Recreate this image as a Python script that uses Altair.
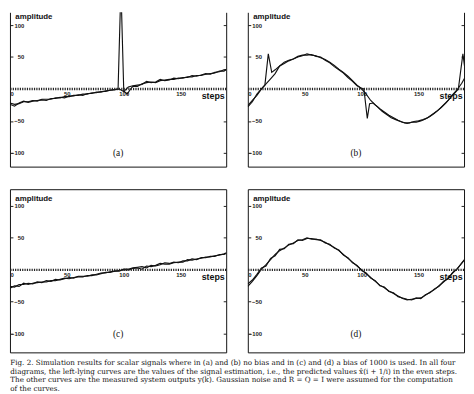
import altair as alt
import pandas as pd

# ---------------- data ----------------
grid_steps = [0, 4, 8, 12, 16, 20, 24, 28, 32, 36, 40, 44, 48, 52, 56, 60, 64, 68, 72, 76,
              80, 84, 88, 92, 96, 100, 104, 108, 112, 116, 120, 124, 128, 132, 136, 140, 144,
              148, 152, 156, 160, 164, 168, 172, 176, 180, 184, 188, 192]

# panel (a): no bias, ramp
a_meas = [-24, -27, -22, -19, -21, -19, -18, -17, -18, -15,
          -15, -13, -14, -11, -11, -9, -10, -7, -7, -5,
          -5, -3, -2, -1, 0, -4, 3, 5, 6, 7,
          12, 10, 11, 15, 13, 14, 17, 16, 18, 18,
          21, 20, 22, 24, 23, 26, 27, 30, 31]
a_est_steps = [0, 4, 8, 12, 16, 20, 24, 28, 32, 36,
               40, 44, 48, 52, 56, 60, 64, 68, 72, 76,
               80, 84, 88, 92, 95, 97.5, 100, 103, 106, 108,
               112, 116, 120, 124, 128, 132, 136, 140, 144, 148,
               152, 156, 160, 164, 168, 172, 176, 180, 184, 188,
               192]
a_est = [-22, -24, -23, -20, -20, -18, -19, -16, -16, -16,
         -14, -14, -12, -12, -10, -10, -8, -8, -6, -6,
         -4, -4, -2, -1, 0, 160, -3, -8, 0, 4,
         4, 8, 10, 11, 10, 13, 14, 15, 15, 17,
         17, 19, 19, 21, 21, 23, 24, 25, 28, 28,
         32]

# panel (b): no bias, sine
b_meas = [-26, -18, -10, 0, 8, 16, 24, 36, 40, 44,
          47, 50, 52, 55, 53, 52, 49, 46, 42, 37,
          31, 26, 20, 13, 6, 0, -8, -18, -25, -31,
          -36, -41, -45, -49, -52, -54, -52, -52, -50, -47,
          -43, -38, -32, -25, -18, -9, -1, 9, 22]
b_est_steps = [0, 4, 8, 12, 15, 18, 21, 24, 28, 32,
               36, 40, 44, 48, 52, 56, 60, 64, 68, 72,
               76, 80, 84, 88, 92, 96, 100, 102, 105, 107,
               110, 114, 118, 122, 126, 130, 134, 138, 142, 146,
               150, 154, 158, 162, 166, 170, 174, 178, 182, 185,
               189, 191, 194]
b_est = [-28, -20, -8, 0, 6, 55, 26, 30, 36, 42,
         45, 47, 51, 53, 53, 54, 51, 50, 45, 41,
         35, 30, 25, 18, 12, 5, 1, 0, -46, -23,
         -22, -28, -35, -40, -45, -48, -51, -53, -53, -51,
         -50, -48, -45, -40, -35, -29, -22, -14, -6, 0,
         55, 28, 30]

# panel (c): bias 1000, ramp
c_meas = [-29, -25, -26, -21, -23, -21, -20, -19, -19, -17,
          -17, -15, -13, -14, -12, -11, -11, -9, -9, -7,
          -5, -5, -3, -2, -1, 0, 0, 2, 3, 1,
          6, 5, 7, 10, 9, 9, 11, 12, 12, 16,
          15, 17, 18, 20, 20, 22, 23, 25, 28]
c_est = [-26, -27, -23, -23, -21, -22, -19, -20, -17, -18,
         -15, -16, -14, -12, -13, -10, -10, -10, -8, -8,
         -6, -4, -4, -2, -2, 1, 1, 3, 4, 5,
         3, 7, 6, 8, 11, 10, 12, 11, 14, 14,
         17, 16, 19, 19, 21, 21, 24, 24, 27]

# panel (d): bias 1000, sine
d_meas = [-26, -18, -9, 1, 8, 16, 24, 30, 34, 39,
          42, 46, 47, 50, 48, 48, 46, 43, 39, 35,
          30, 24, 18, 12, 6, 0, -6, -12, -18, -24,
          -28, -33, -37, -41, -45, -47, -46, -45, -44, -40,
          -35, -31, -25, -19, -13, -5, 2, 10, 20]
d_est = [-22, -16, -7, 3, 6, 18, 22, 32, 33, 40,
         41, 47, 46, 49, 49, 47, 47, 42, 40, 34,
         31, 23, 19, 11, 7, -1, -5, -13, -17, -25,
         -27, -34, -36, -42, -44, -46, -47, -44, -45, -39,
         -36, -30, -26, -18, -14, -4, 1, 11, 19]

y_ticks = [-100, -50, 50, 100]
x_ticks = [0, 50, 100, 150]
x_domain = [0, 190]

IND = "\u00a0" * 6
caption_lines = [
    "Fig. 2.  Simulation results for scalar signals where in (a) and (b) no bias and in (c) and (d) a bias of 1000 is used. In all four",
    IND + "diagrams, the left-lying curves are the values of the signal estimation, i.e., the predicted values x\u0302(i + 1/i) in the even steps.",
    IND + "The other curves are the measured system outputs y(k). Gaussian noise and R = Q = I were assumed for the computation",
    IND + "of the curves.",
]

# ---------------- layout constants ----------------
W = 220
H_TOP, H_BOT = 157, 166
Z_TOP, Z_BOT = 78, 82      # pixel offset of the zero line from the panel top
PX = 0.65                  # pixels per amplitude unit
SANS = "Liberation Sans"
SERIF = "Liberation Serif"


def panel(ms, mv, es, ev, letter, H, z, top_row):
    xs = alt.Scale(domain=x_domain, nice=False, zero=False)
    ys = alt.Scale(domain=[-(H - z) / PX, z / PX], nice=False, zero=False)
    df = pd.DataFrame({
        "step": ms + es,
        "value": mv + ev,
        "series": ["measured"] * len(ms) + ["estimate"] * len(es),
    })
    lines = alt.Chart(df).mark_line(color="#111", strokeWidth=1.15, clip=True).encode(
        x=alt.X("step:Q", scale=xs, axis=alt.Axis(
            orient="bottom", offset=-(H - z), values=x_ticks, ticks=False, domain=False,
            grid=False, labelPadding=2, labelFont=SANS, labelFontSize=6,
            labelFontWeight="bold", labelColor="#222",
            title="steps", titleFont=SANS, titleFontSize=9, titleFontWeight="bold",
            titleColor="#111", titleX=W - 2, titleY=10, titleAlign="right",
            titleBaseline="alphabetic")),
        y=alt.Y("value:Q", scale=ys, axis=alt.Axis(
            orient="right", offset=-W, values=y_ticks, tickSize=3, tickColor="#222",
            domain=top_row, domainColor="#111", grid=False, labelAlign="right",
            labelPadding=11, labelFont=SANS, labelFontSize=6, labelFontWeight="bold",
            labelColor="#222",
            title="amplitude", titleAngle=0, titleX=5, titleY=(6 if top_row else 11),
            titleAlign="left", titleBaseline="alphabetic", titleFont=SANS,
            titleFontSize=8, titleFontWeight="bold", titleColor="#111")),
        detail="series:N",
    )
    zero = alt.Chart(pd.DataFrame({"v": [0]})).mark_rule(
        color="#222", strokeWidth=2.4, strokeDash=[1.2, 1.2]).encode(
        y=alt.Y("v:Q", scale=ys, axis=alt.Axis(
            orient="left", offset=-W, values=y_ticks, tickSize=3, tickColor="#222",
            labels=False, domain=top_row, domainColor="#111", grid=False, title="")))
    if top_row:
        bx = alt.Axis(orient="bottom", labels=False, ticks=False, domain=True,
                      domainColor="#111", grid=False, title="")
    else:
        bx = None
    lab = alt.Chart(pd.DataFrame({"s": [95], "v": [-101], "t": [letter]})).mark_text(
        font=SERIF, fontSize=9.5, color="#111").encode(
        x=alt.X("s:Q", scale=xs, axis=bx),
        y=alt.Y("v:Q", scale=ys, axis=None),
        text="t:N")
    ch = alt.layer(lines, zero, lab).resolve_axis(x="independent", y="independent").properties(
        width=W, height=H)
    if top_row:
        ch = ch.properties(view=alt.ViewBackground(stroke="transparent"))
    return ch


pa = panel(grid_steps, a_meas, a_est_steps, a_est, "(a)", H_TOP, Z_TOP, True)
pb = panel(grid_steps, b_meas, b_est_steps, b_est, "(b)", H_TOP, Z_TOP, True)
pc = panel(grid_steps, c_meas, grid_steps, c_est, "(c)", H_BOT, Z_BOT, False)
pd_ = panel(grid_steps, d_meas, grid_steps, d_est, "(d)", H_BOT, Z_BOT, False)

top = alt.hconcat(pa, pb, spacing=18)
bot = alt.hconcat(pc, pd_, spacing=18)

chart = alt.vconcat(top, bot, spacing=21).properties(
    padding=0,
    title=alt.TitleParams(
        text=caption_lines, orient="bottom", anchor="start", font="DejaVu Serif",
        fontSize=7.3, fontWeight="normal", color="#111", lineHeight=9,
        offset=6, dx=2, baseline="top"),
).configure_view(stroke="#111", strokeWidth=1)

chart.save("out.html", embed_options={"renderer": "svg", "actions": False})
